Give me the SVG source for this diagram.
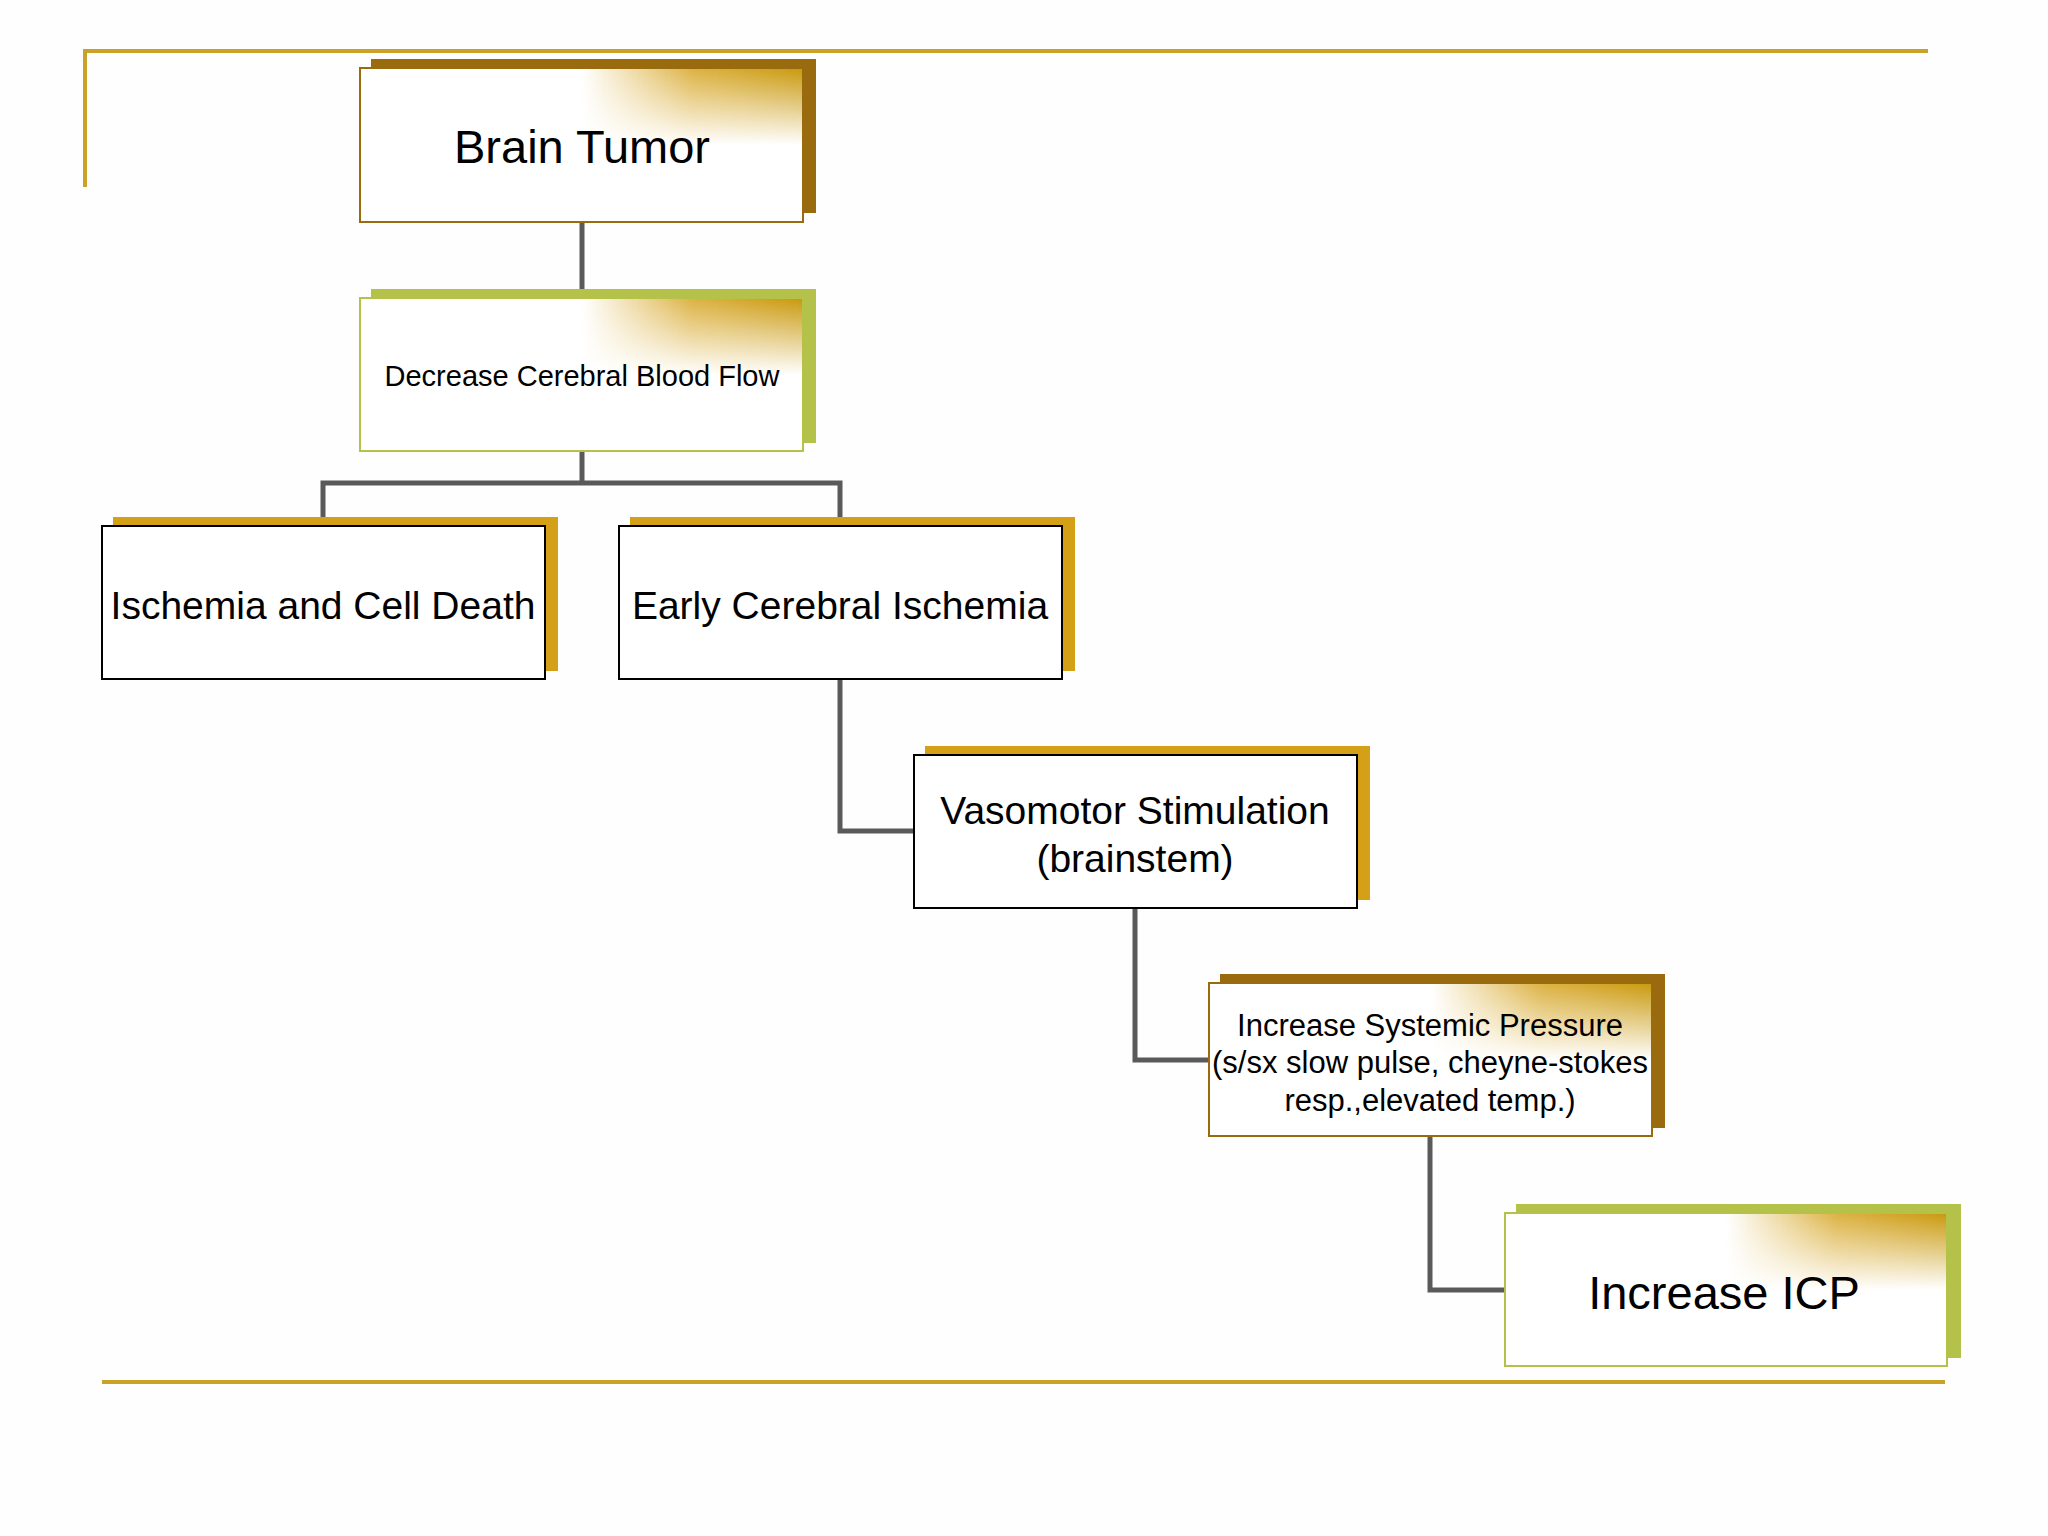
<svg xmlns="http://www.w3.org/2000/svg" width="2048" height="1536" viewBox="0 0 2048 1536">
<defs>
<linearGradient id="gh" x1="0" y1="0" x2="1" y2="0"><stop offset="0" stop-color="#d4a017" stop-opacity="0"/><stop offset="0.5" stop-color="#d4a017" stop-opacity="0.8"/><stop offset="1" stop-color="#c99a10"/></linearGradient>
<linearGradient id="gv" x1="0" y1="0" x2="0" y2="1"><stop offset="0" stop-color="#fff"/><stop offset="1" stop-color="#000"/></linearGradient>
<mask id="m" maskContentUnits="objectBoundingBox"><rect width="1" height="1" fill="url(#gv)"/></mask>
</defs>
<style>
.t{font-family:"Liberation Sans",Arial,sans-serif;fill:#000;text-anchor:middle}
.c{fill:none;stroke:#5a5a5a;stroke-width:5}
.box{fill:#fff;stroke-width:2}
</style>
<rect width="2048" height="1536" fill="#fefefe"/>
<g id="frame" fill="none" stroke="#c9a227" stroke-width="4">
<polyline points="85,187 85,51 1928,51"/>
<line x1="102" y1="1382" x2="1945" y2="1382"/>
</g>
<g id="connectors">
<line class="c" x1="582" y1="222" x2="582" y2="298"/>
<polyline class="c" points="582,451 582,483"/>
<polyline class="c" points="323,526 323,483 840,483 840,526"/>
<polyline class="c" points="840,679 840,831 914,831"/>
<polyline class="c" points="1135,908 1135,1060 1209,1060"/>
<polyline class="c" points="1430,1136 1430,1290 1505,1290"/>
</g>
<g id="n1">
<rect x="371" y="59" width="445" height="154" fill="#9a6a0e"/>
<rect class="box" x="360" y="68" width="443" height="154" stroke="#9a6a0e"/>
<rect x="582" y="69" width="220" height="76" fill="url(#gh)" mask="url(#m)"/>
<text class="t" x="582" y="163" font-size="47">Brain Tumor</text>
</g>
<g id="n2">
<rect x="371" y="289" width="445" height="154" fill="#b5c24a"/>
<rect class="box" x="360" y="298" width="443" height="153" stroke="#b5c24a"/>
<rect x="582" y="299" width="220" height="76" fill="url(#gh)" mask="url(#m)"/>
<text class="t" x="582" y="386" font-size="29">Decrease Cerebral Blood Flow</text>
</g>
<g id="n3">
<rect x="113" y="517" width="445" height="154" fill="#d4a017"/>
<rect class="box" x="102" y="526" width="443" height="153" stroke="#000"/>
<text class="t" x="323" y="619" font-size="39">Ischemia and Cell Death</text>
</g>
<g id="n4">
<rect x="630" y="517" width="445" height="154" fill="#d4a017"/>
<rect class="box" x="619" y="526" width="443" height="153" stroke="#000"/>
<text class="t" x="840" y="619" font-size="39">Early Cerebral Ischemia</text>
</g>
<g id="n5">
<rect x="925" y="746" width="445" height="154" fill="#d4a017"/>
<rect class="box" x="914" y="755" width="443" height="153" stroke="#000"/>
<text class="t" x="1135" y="824" font-size="39">Vasomotor Stimulation</text>
<text class="t" x="1135" y="872" font-size="39">(brainstem)</text>
</g>
<g id="n6">
<rect x="1220" y="974" width="445" height="154" fill="#9a6a0e"/>
<rect class="box" x="1209" y="983" width="443" height="153" stroke="#9a6a0e"/>
<rect x="1431" y="984" width="220" height="76" fill="url(#gh)" mask="url(#m)"/>
<text class="t" x="1430" y="1036" font-size="31">Increase Systemic Pressure</text>
<text class="t" x="1430" y="1073" font-size="31">(s/sx slow pulse, cheyne-stokes</text>
<text class="t" x="1430" y="1111" font-size="31">resp.,elevated temp.)</text>
</g>
<g id="n7">
<rect x="1516" y="1204" width="445" height="154" fill="#b5c24a"/>
<rect class="box" x="1505" y="1213" width="442" height="153" stroke="#b5c24a"/>
<rect x="1726" y="1214" width="220" height="76" fill="url(#gh)" mask="url(#m)"/>
<text class="t" x="1724" y="1309" font-size="47">Increase ICP</text>
</g>
</svg>
